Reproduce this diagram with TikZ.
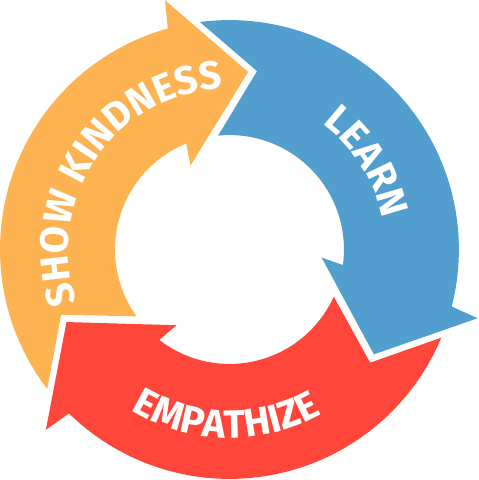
\documentclass[tikz,border=0pt]{standalone}
\usepackage{fontspec}
\usepackage{tikz}
\usetikzlibrary{decorations.text}
\newfontfamily\ringfont{Fira Sans}
\definecolor{kindorange}{RGB}{254,179,83}
\definecolor{learnblue}{RGB}{82,158,207}
\definecolor{empred}{RGB}{254,70,58}

\begin{document}
\begin{tikzpicture}[scale=0.02]
\tikzstyle{ringtext}=[decorate,decoration={text along path,text align=center,text color=white}]
\useasboundingbox (-229.5,-230.5) rectangle (248.5,249.5);
\begin{scope}[rotate=0]
\fill [kindorange] (217.4:229.5) arc (217.4:105.6:229.5) -- (104.5:257.5) -- (84:178.5) -- (115:92.5) -- (112.2:114.5) arc (112.2:215.7:114.5) -- (201.2:180.6) -- cycle;
\end{scope}
\begin{scope}[rotate=-120]
\fill [learnblue] (217.4:229.5) arc (217.4:105.6:229.5) -- (104.5:257.5) -- (84:178.5) -- (115:92.5) -- (112.2:114.5) arc (112.2:215.7:114.5) -- (201.2:180.6) -- cycle;
\end{scope}
\begin{scope}[rotate=-240]
\fill [empred] (217.4:229.5) arc (217.4:105.6:229.5) -- (104.5:257.5) -- (84:178.5) -- (115:92.5) -- (112.2:114.5) arc (112.2:215.7:114.5) -- (201.2:180.6) -- cycle;
\end{scope}
\path [ringtext,decoration={text={|\ringfont\bfseries\fontsize{22.5}{22.5}\selectfont|SHOW KINDNESS}}] (205.7:161) arc (205.7:85.7:161);
\path [ringtext,decoration={text={|\ringfont\bfseries\fontsize{22.5}{22.5}\selectfont|LEARN}}] (72.5:156) arc (72.5:-7.5:156);
\path [ringtext,decoration={text={|\ringfont\bfseries\fontsize{22.5}{22.5}\selectfont|EMPATHIZE}}] (209:188.5) arc (209:329:188.5);
\end{tikzpicture}
\end{document}
